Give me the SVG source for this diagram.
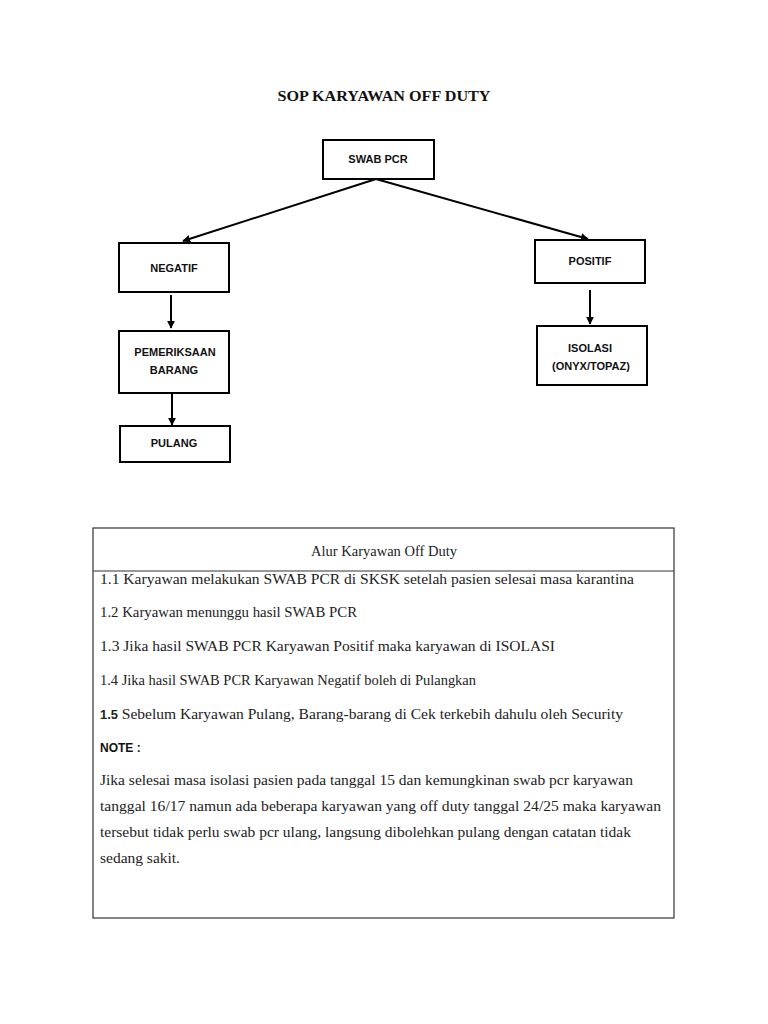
<svg xmlns="http://www.w3.org/2000/svg" width="768" height="1024" viewBox="0 0 768 1024">
<style>
.box{fill:#fff;stroke:#000;stroke-width:2}
.nt{font-family:"Liberation Sans",Arial,sans-serif;font-weight:bold;font-size:11px;fill:#111;text-anchor:middle}
.ln{stroke:#000;stroke-width:2;fill:none;marker-end:url(#ah)}
.tx{font-family:"Liberation Serif","Times New Roman",serif;font-size:14.5px;fill:#222}
.tb{fill:none;stroke:#333;stroke-width:1.2}
</style>
<defs>
<marker id="ah" viewBox="0 0 10 10" refX="9" refY="5" markerWidth="4" markerHeight="4" orient="auto" markerUnits="strokeWidth">
<path d="M0,0 L10,5 L0,10 z" fill="#000"/>
</marker>
</defs>
<rect width="768" height="1024" fill="#fff"/>
<text x="384" y="101" text-anchor="middle" font-family="Liberation Serif,'Times New Roman',serif" font-weight="bold" font-size="14px" textLength="213" lengthAdjust="spacingAndGlyphs" fill="#111">SOP KARYAWAN OFF DUTY</text>

<g id="connectors">
<line class="ln" x1="376" y1="179" x2="183" y2="241"/>
<line class="ln" x1="376" y1="179" x2="588" y2="239"/>
<line class="ln" x1="171" y1="295" x2="171" y2="328"/>
<line class="ln" x1="172" y1="394" x2="172" y2="425"/>
<line class="ln" x1="590" y1="290" x2="590" y2="324"/>
</g>

<g id="swab"><rect class="box" x="323" y="140" width="111" height="39"/><text class="nt" x="378" y="163">SWAB PCR</text></g>
<g id="negatif"><rect class="box" x="119" y="243" width="110" height="49"/><text class="nt" x="174" y="272">NEGATIF</text></g>
<g id="positif"><rect class="box" x="535" y="240" width="110" height="43"/><text class="nt" x="590" y="265">POSITIF</text></g>
<g id="pemeriksaan"><rect class="box" x="119" y="331" width="110" height="62"/><text class="nt" x="175" y="356">PEMERIKSAAN</text><text class="nt" x="174" y="374">BARANG</text></g>
<g id="pulang"><rect class="box" x="120" y="426" width="110" height="36"/><text class="nt" x="174" y="447">PULANG</text></g>
<g id="isolasi"><rect class="box" x="537" y="326" width="110" height="59"/><text class="nt" x="590" y="352">ISOLASI</text><text class="nt" x="591" y="370">(ONYX/TOPAZ)</text></g>

<g id="table">
<rect class="tb" x="93" y="528" width="581" height="390"/>
<line class="tb" x1="93" y1="571" x2="674" y2="571"/>
<text class="tx" x="384" y="556" text-anchor="middle">Alur Karyawan Off Duty</text>
<text class="tx" x="100" y="584" textLength="534" lengthAdjust="spacingAndGlyphs">1.1 Karyawan melakukan SWAB PCR di SKSK setelah pasien selesai masa karantina</text>
<text class="tx" x="100" y="617" textLength="257" lengthAdjust="spacingAndGlyphs">1.2 Karyawan menunggu hasil SWAB PCR</text>
<text class="tx" x="100" y="651" textLength="455" lengthAdjust="spacingAndGlyphs">1.3 Jika hasil SWAB PCR Karyawan Positif maka karyawan di ISOLASI</text>
<text class="tx" x="100" y="685" textLength="376" lengthAdjust="spacingAndGlyphs">1.4 Jika hasil SWAB PCR Karyawan Negatif boleh di Pulangkan</text>
<text class="tx" x="100" y="719" textLength="523" lengthAdjust="spacingAndGlyphs"><tspan font-family="Liberation Sans,Arial,sans-serif" font-weight="bold" font-size="12px">1.5</tspan> Sebelum Karyawan Pulang, Barang-barang di Cek terkebih dahulu oleh Security</text>
<text x="100" y="752" font-family="Liberation Sans,Arial,sans-serif" font-weight="bold" font-size="12px" fill="#111">NOTE :</text>
<text class="tx" x="100" y="785" textLength="533" lengthAdjust="spacingAndGlyphs">Jika selesai masa isolasi pasien pada tanggal 15 dan kemungkinan swab pcr karyawan</text>
<text class="tx" x="100" y="811" textLength="561" lengthAdjust="spacingAndGlyphs">tanggal 16/17  namun ada beberapa karyawan yang off duty tanggal 24/25 maka karyawan</text>
<text class="tx" x="100" y="837" textLength="531" lengthAdjust="spacingAndGlyphs">tersebut tidak perlu swab pcr ulang, langsung dibolehkan pulang dengan catatan tidak</text>
<text class="tx" x="100" y="863" textLength="80" lengthAdjust="spacingAndGlyphs">sedang sakit.</text>
</g>
</svg>
